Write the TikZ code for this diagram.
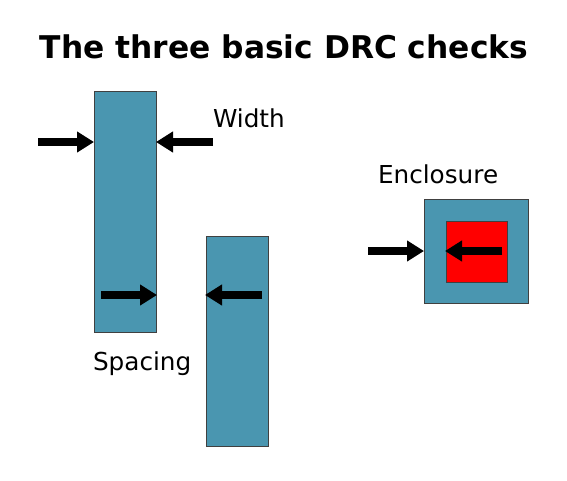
\documentclass[tikz,border=0pt]{standalone}
\usepackage{fontspec}
\setmainfont{DejaVu Sans}
\usetikzlibrary{arrows.meta}
\definecolor{metal}{RGB}{74,150,176}
\tikzset{
  layer/.style={draw=black!75, line width=0.8pt, fill=metal, inner sep=0pt, outer sep=0pt, rectangle},
  redlayer/.style={draw=black!75, line width=0.8pt, fill=red, inner sep=0pt, outer sep=0pt, rectangle},
  arr/.style={line width=8.3pt, -{Triangle[length=17pt,width=20pt]}},
  lbl/.style={inner sep=0pt, outer sep=0pt, anchor=base west, font=\fontsize{24.7}{28}\selectfont},
}
\begin{document}
\begin{tikzpicture}[x=1pt,y=-1pt]
\useasboundingbox (0,0) rectangle (567,480);
\node[inner sep=0pt, anchor=base, font=\fontsize{31.3}{36}\selectfont\bfseries] (title) at (284,58.5) {The three basic DRC checks};
% shapes
\node[layer, minimum width=62pt, minimum height=241pt] (r1) at (125,211.5) {};
\node[layer, minimum width=62pt, minimum height=210pt] (r2) at (237,341) {};
\node[layer, minimum width=104pt, minimum height=104pt] (enc) at (476,251) {};
\node[redlayer, minimum width=61pt, minimum height=61pt] (via) at (476.5,251.5) {};
% labels
\node[lbl] (width) at (213,127) {Width};
\node[lbl] (spacing) at (93,370.5) {Spacing};
\node[lbl] (enclosure) at (378,183) {Enclosure};
% free ends
\coordinate (a1) at (38,142);
\coordinate (a2) at (213,142);
\coordinate (a3) at (101,295);
\coordinate (a4) at (262,295);
\coordinate (a5) at (368,251);
\coordinate (a6) at (502,251);
% arrows
\draw[arr] (a1) -- (r1.west |- a1);
\draw[arr] (a2) -- (r1.east |- a2);
\draw[arr] (a3) -- ([xshift=1pt]r1.east |- a3);
\draw[arr] (a4) -- ([xshift=-1pt]r2.west |- a4);
\draw[arr] (a5) -- (enc.west |- a5);
\draw[arr] (a6) -- ([xshift=-1pt]via.west |- a6);
\end{tikzpicture}
\end{document}
